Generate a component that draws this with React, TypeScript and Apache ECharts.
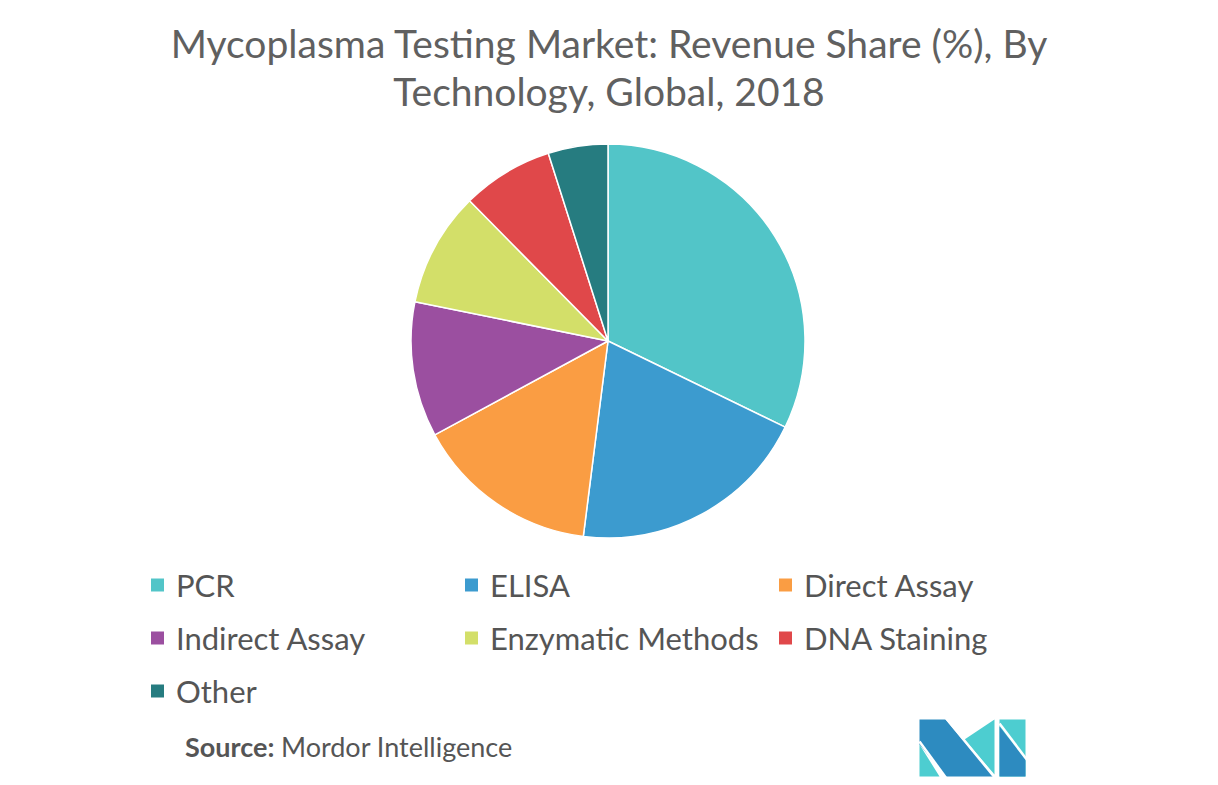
import React, { useEffect, useRef } from "react";
import * as echarts from "echarts";

const categories = ["PCR", "ELISA", "Direct Assay", "Indirect Assay", "Enzymatic Methods", "DNA Staining", "Other"];
const shares = [32.2, 19.8, 15.1, 11.1, 9.4, 7.5, 4.9];
const colors = ["#52C5C8", "#3C9BCF", "#FA9D43", "#9B4FA0", "#D3DF69", "#E0484A", "#267C80"];
const titleLines = ["Mycoplasma Testing Market: Revenue Share (%), By", "Technology, Global, 2018"];

export default function App() {
  const ref = useRef<HTMLDivElement>(null);
  useEffect(() => {
    if (!ref.current) return;
    const chart = echarts.init(ref.current, undefined, { renderer: "svg" });
    const cyan = "#4DCDD0";
    const blue = "#2D8BC0";
    chart.setOption({
      animation: false,
      backgroundColor: "#ffffff",
      title: {
        text: titleLines.join("\n"),
        left: "center",
        top: 14,
        textStyle: {
          fontFamily: "Lato",
          fontWeight: "normal",
          fontSize: 39,
          lineHeight: 48,
          color: "#606060",
        },
      },
      legend: {
        left: 144,
        top: 557,
        width: 960,
        itemWidth: 15,
        itemHeight: 15,
        itemGap: 7,
        icon: "rect",
        data: categories,
        textStyle: {
          fontFamily: "Lato",
          fontSize: 31,
          color: "#555555",
          width: 280,
          lineHeight: 46,
          padding: [0, 0, 0, 6],
        },
      },
      graphic: [
        {
          type: "text",
          left: 185,
          top: 733,
          style: {
            text: "{b|Source:}  {r|Mordor Intelligence}",
            rich: {
              b: { fontFamily: "Lato", fontWeight: "bold", fontSize: 27, fill: "#555555" },
              r: { fontFamily: "Lato", fontSize: 27, fill: "#555555" },
            },
          },
        },
        {
          type: "group",
          left: 917,
          top: 715,
          children: [
            { type: "polygon", shape: { points: [[0, 25], [0, 57], [20, 57]] }, style: { fill: cyan } },
            { type: "polygon", shape: { points: [[0, 0], [26, 0], [74, 57], [26, 57], [0, 25]] }, style: { fill: blue } },
            { type: "polygon", shape: { points: [[45, 20], [75, 0], [75, 55]] }, style: { fill: cyan } },
            { type: "rect", shape: { x: 80, y: 0, width: 26, height: 57 }, style: { fill: cyan } },
            { type: "polygon", shape: { points: [[80, 7], [106, 40], [106, 57], [80, 57]] }, style: { fill: blue } },
            { type: "line", shape: { x1: 0, y1: 22, x2: 27, y2: 59 }, style: { stroke: "#fff", lineWidth: 2.5 } },
            { type: "line", shape: { x1: 26, y1: -2, x2: 76, y2: 59 }, style: { stroke: "#fff", lineWidth: 2.5 } },
            { type: "line", shape: { x1: 80, y1: 4, x2: 108, y2: 41 }, style: { stroke: "#fff", lineWidth: 2.5 } },
          ],
        },
      ],
      series: [
        {
          type: "pie",
          center: [608, 341],
          radius: 197,
          startAngle: 90,
          clockwise: true,
          label: { show: false },
          labelLine: { show: false },
          itemStyle: { borderColor: "#ffffff", borderWidth: 1.5 },
          emphasis: { disabled: true },
          data: categories.map((c, i) => ({ name: c, value: shares[i], itemStyle: { color: colors[i] } })),
        },
      ],
    });
    return () => chart.dispose();
  }, []);
  return <div ref={ref} style={{ width: 1218, height: 785, position: "absolute", left: 0, top: 0 }} />;
}
